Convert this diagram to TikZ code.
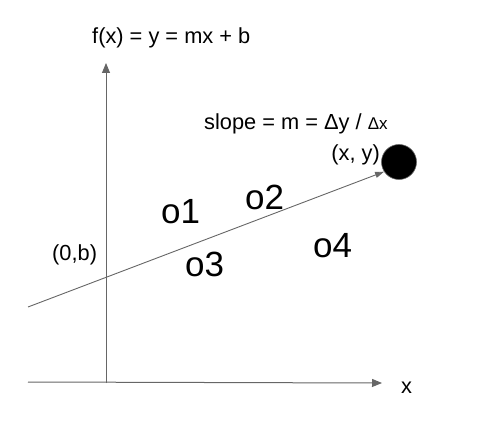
\documentclass[tikz,border=0pt]{standalone}
\usepackage{fontspec}
\setmainfont{Liberation Sans}
\usetikzlibrary{arrows.meta}
\definecolor{axisgray}{HTML}{666666}
\begin{document}
\begin{tikzpicture}[x=1pt,y=1pt,
  axisline/.style={draw=axisgray,line width=1pt},
  arrowline/.style={axisline,-{Triangle[length=10pt,width=8pt]}},
  smalltext/.style={inner sep=0pt,font=\fontsize{21.8}{22}\selectfont},
  bigtext/.style={inner sep=0pt,font=\fontsize{35}{35}\selectfont}]
\useasboundingbox (0,0) rectangle (486,420);
% axes
\coordinate (ybot) at (106,37);
\coordinate (ytop) at (106,357);
\coordinate (xleft) at (28,38);
\coordinate (xright) at (382,37);
\draw[arrowline] (ybot) -- (ytop);
\draw[arrowline] (xleft) -- (xright);
% point
\node[circle,fill=black,draw=axisgray,line width=0.6pt,minimum size=35pt,inner sep=0pt] (ball) at (399,258) {};
\coordinate (lstart) at (28,113);
\draw[draw=axisgray,line width=0.9pt,-{Triangle[length=9pt,width=6pt]}] (lstart) -- (ball.213);
% labels
\node[smalltext,anchor=base west] (fx) at (92,376) {f(x) = y = mx + b};
\node[smalltext,anchor=base west] (slope) at (204,290) {slope = m = Δy / {\fontsize{17}{17}\selectfont Δx}};
\node[smalltext,anchor=base east] (xy) at (380,259) {(x, y)};
\node[smalltext,anchor=base west] (zb) at (52,159) {(0,b)};
\node[smalltext,anchor=base west] (xl) at (401,27) {x};
\node[bigtext,anchor=base west] (o1) at (161,196) {o1};
\node[bigtext,anchor=base west] (o2) at (245,210) {o2};
\node[bigtext,anchor=base west] (o3) at (185,143) {o3};
\node[bigtext,anchor=base west] (o4) at (313,162) {o4};
\end{tikzpicture}
\end{document}
